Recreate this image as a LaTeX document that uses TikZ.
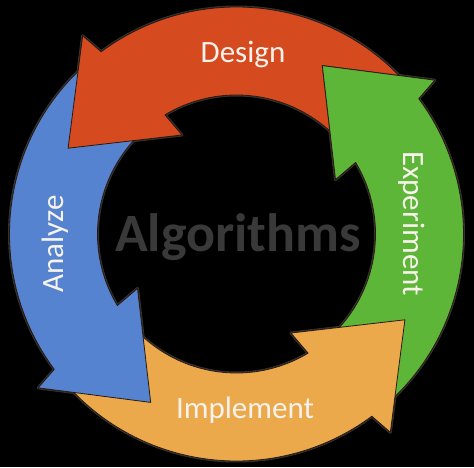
\documentclass[tikz,border=0pt]{standalone}
\usepackage{fontspec}
\setmainfont{Carlito}
\definecolor{cred}{HTML}{D64A1F}
\definecolor{cgreen}{HTML}{5DB637}
\definecolor{corange}{HTML}{ECA94B}
\definecolor{cblue}{HTML}{5683CF}
\definecolor{clabel}{HTML}{F7F3EC}
\definecolor{calg}{HTML}{393939}
\definecolor{chalo}{HTML}{333333}
\definecolor{cedge}{HTML}{2A1810}
\tikzset{
  lab/.style={text=clabel, font=\fontsize{31}{31}\selectfont, inner sep=0pt},
  algtext/.style={font=\fontsize{54}{54}\selectfont\bfseries, inner sep=0pt},
  edge/.style={draw=cedge, line width=0.8pt, line join=round},
  halo/.style={draw=chalo, line width=3pt, line join=round}
}
\begin{document}
\begin{tikzpicture}[x=1pt,y=1pt]
\useasboundingbox[fill=black] (0,0) rectangle (474,467);
\begin{scope}[shift={(236.5,233)}]
  % halo
  \foreach \o in {0,90,180,270}{
    \draw[halo] (\o+40:227) arc[start angle=\o+40, end angle=\o+126.6, radius=227]
      -- (\o+127.8:251) -- (\o+153:189) -- (\o+118.8:113) -- (\o+121:139)
      arc[start angle=\o+121, end angle=\o+40, radius=139] -- cycle;
  }
  % pass 1: full arrows
  \foreach \o/\c in {0/cred,90/cblue,180/corange,270/cgreen}{
    \filldraw[fill=\c, edge] (\o+40:227) arc[start angle=\o+40, end angle=\o+126.6, radius=227]
      -- (\o+127.8:251) -- (\o+153:189) -- (\o+118.8:113) -- (\o+121:139)
      arc[start angle=\o+121, end angle=\o+40, radius=139] -- cycle;
  }
  % pass 2: heads on top
  \foreach \o/\c in {0/cred,90/cblue,180/corange,270/cgreen}{
    \fill[\c] (\o+95:227) arc[start angle=\o+95, end angle=\o+126.6, radius=227]
      -- (\o+127.8:251) -- (\o+153:189) -- (\o+118.8:113) -- (\o+121:139)
      arc[start angle=\o+121, end angle=\o+95, radius=139] -- cycle;
    \draw[edge] (\o+95:227) arc[start angle=\o+95, end angle=\o+126.6, radius=227]
      -- (\o+127.8:251) -- (\o+153:189) -- (\o+118.8:113) -- (\o+121:139)
      arc[start angle=\o+121, end angle=\o+95, radius=139];
  }
\end{scope}
% labels
\node[lab, anchor=base] (design) at (243,404) {Design};
\node[lab, anchor=base] (implement) at (245,49) {Implement};
\node[lab, anchor=base, rotate=-90] (experiment) at (403,243.5) {Experiment};
\node[lab, anchor=base, rotate=90] (analyze) at (63,223) {Analyze};
\node[algtext, text=calg, anchor=base] (algo) at (238,216) {Algorithms};
\end{tikzpicture}
\end{document}
